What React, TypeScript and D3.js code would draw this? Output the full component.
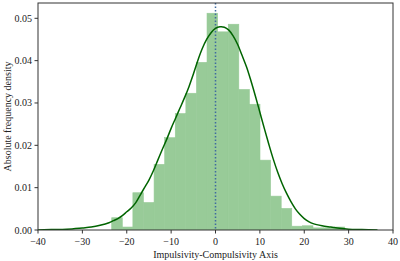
import React from "react";
import * as d3 from "d3";

const binStarts = [-23.39, -21.0, -18.62, -16.23, -13.84, -11.45, -9.07, -6.68, -4.29, -1.91, 0.48, 2.87, 5.26, 7.64, 10.03, 12.42, 14.8, 17.19, 19.58, 21.97, 24.35, 26.74];
const binWidth = 2.387;
const binDensity = [0.0029, 0.0007, 0.0088, 0.0065, 0.0155, 0.0218, 0.0275, 0.0323, 0.0396, 0.0512, 0.0468, 0.0486, 0.0332, 0.0297, 0.0165, 0.008, 0.0051, 0.0009, 0.001, 0.0005, 0.0005, 0.0007];

const kdeX = [-41, -37, -33.5, -30, -28, -26, -24, -23, -22, -21, -20, -19, -18, -17, -16, -15, -14, -13, -12, -11, -10, -9, -8, -7, -6, -5, -4, -3, -2, -1, 0, 1, 2, 3, 4, 5, 6, 7, 8, 9, 10, 11, 12, 13, 14, 15, 16, 17, 18, 19, 20, 21, 22, 24, 26, 28, 30, 33, 36.5];
const kdeY = [0.0, 0.0001, 0.0002, 0.0005, 0.0007, 0.0011, 0.0017, 0.0022, 0.0027, 0.0034, 0.0043, 0.0052, 0.0064, 0.0082, 0.01, 0.0118, 0.014, 0.0165, 0.019, 0.0214, 0.024, 0.0264, 0.0288, 0.0312, 0.0338, 0.0368, 0.04, 0.0428, 0.045, 0.0466, 0.0476, 0.048, 0.0479, 0.0472, 0.0458, 0.0438, 0.0412, 0.0385, 0.0352, 0.0316, 0.0278, 0.024, 0.0203, 0.0168, 0.0137, 0.011, 0.0087, 0.0067, 0.005, 0.0037, 0.0027, 0.002, 0.0015, 0.001, 0.0007, 0.0004, 0.0002, 0.0001, 0.0];

const xTicks = [-40, -30, -20, -10, 0, 10, 20, 30, 40];
const yTicks = [0, 0.01, 0.02, 0.03, 0.04, 0.05];

const W = 400;
const H = 261;
const left = 38;
const right = 393;
const top = 3;
const bottom = 230;
const FONT = "'Liberation Serif', 'DejaVu Serif', serif";
const BAR = "rgb(152,203,152)";

export default function App() {
  const x = d3.scaleLinear().domain([-40, 40]).range([left, right]);
  const y = d3.scaleLinear().domain([0, 0.05]).range([bottom, 18.3]);

  const line = d3
    .line<number>()
    .x((_, i) => x(kdeX[i]))
    .y((d) => y(d))
    .curve(d3.curveCatmullRom);

  const fmtX = (v: number) => (v < 0 ? "\u2212" + Math.abs(v) : String(v));

  return (
    <svg
      width={W}
      height={H}
      style={{ position: "absolute", left: 0, top: 0, background: "#fff" }}
      fontFamily={FONT}
    >
      <defs>
        <clipPath id="plot">
          <rect x={left} y={top} width={right - left} height={bottom - top} />
        </clipPath>
      </defs>
      <rect x={0} y={0} width={W} height={H} fill="#fff" />
      <g clipPath="url(#plot)">
        {binStarts.map((b, i) => (
          <rect
            key={i}
            x={x(b)}
            y={y(binDensity[i])}
            width={x(b + binWidth) - x(b)}
            height={bottom - y(binDensity[i])}
            fill={BAR}
            stroke={BAR}
            strokeWidth={0.6}
          />
        ))}
        <line
          x1={x(0)}
          x2={x(0)}
          y1={top}
          y2={bottom}
          stroke="#3f6aa0"
          strokeWidth={1.5}
          strokeDasharray="1.5,2"
        />
        <path d={line(kdeY) || ""} fill="none" stroke="#006400" strokeWidth={1.5} />
      </g>
      <rect
        x={left}
        y={top}
        width={right - left}
        height={bottom - top}
        fill="none"
        stroke="#333"
        strokeWidth={1}
      />
      {xTicks.map((t) => (
        <g key={t}>
          <line x1={x(t)} x2={x(t)} y1={bottom} y2={bottom + 3.5} stroke="#333" strokeWidth={1} />
          <text x={x(t)} y={bottom + 15} textAnchor="middle" fontSize={10} fill="#222">
            {fmtX(t)}
          </text>
        </g>
      ))}
      {yTicks.map((t) => (
        <g key={t}>
          <line x1={left - 3.5} x2={left} y1={y(t)} y2={y(t)} stroke="#333" strokeWidth={1} />
          <text x={left - 6} y={y(t) + 3.5} textAnchor="end" fontSize={10} fill="#222">
            {t.toFixed(2)}
          </text>
        </g>
      ))}
      <text x={(left + right) / 2} y={257.5} textAnchor="middle" fontSize={10} fill="#222">
        Impulsivity-Compulsivity Axis
      </text>
      <text
        transform={`translate(10.5, ${(top + bottom) / 2}) rotate(-90)`}
        textAnchor="middle"
        fontSize={10}
        fill="#222"
      >
        Absolute frequency density
      </text>
    </svg>
  );
}
